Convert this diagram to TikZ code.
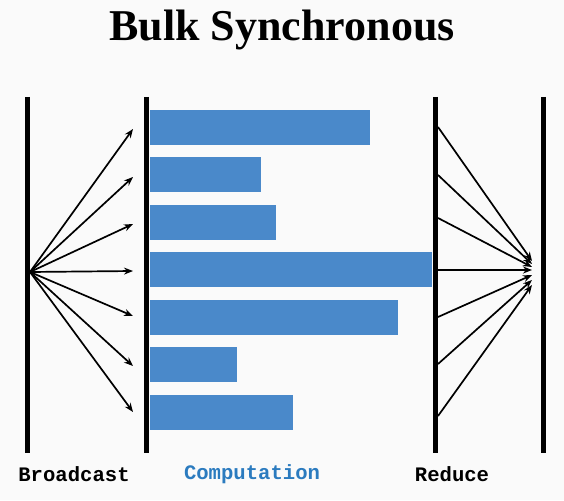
\documentclass[tikz,border=0pt]{standalone}
\usepackage{fontspec}
\setmainfont{Liberation Serif}
\setmonofont{Liberation Mono}
\usetikzlibrary{arrows.meta}
\definecolor{barblue}{HTML}{4A89CA}
\definecolor{txtblue}{HTML}{2B7BBF}

\begin{document}
\begin{tikzpicture}[x=1pt,y=-1pt]
\tikzstyle{barrier} = [draw=black, line width=5pt]
\tikzstyle{task} = [rectangle, fill=barblue, inner sep=0pt, minimum height=35pt, anchor=north west]
\tikzstyle{phase} = [font=\fontsize{20.6}{21}\selectfont\ttfamily\bfseries]
\tikzstyle{line} = [draw, line width=1.7pt, -{Stealth[length=9pt,width=7pt]}]
\useasboundingbox[fill=white!98!black] (0,0) rectangle (564,500);

\node[font=\fontsize{44}{44}\selectfont\bfseries] (title) at (282,30) {Bulk Synchronous};

% barriers
\path[barrier] (27,97) -- (27,453);
\path[barrier] (146,97) -- (146,453);
\path[barrier] (435,97) -- (435,453);
\path[barrier] (543,97) -- (543,453);

% computation
\node[task, minimum width=220pt] (c1) at (150,110) {};
\node[task, minimum width=111pt] (c2) at (150,157) {};
\node[task, minimum width=126pt] (c3) at (150,205) {};
\node[task, minimum width=282pt] (c4) at (150,252) {};
\node[task, minimum width=248pt] (c5) at (150,300) {};
\node[task, minimum width=87pt] (c6) at (150,347) {};
\node[task, minimum width=143pt] (c7) at (150,395) {};

\node[phase] (bcast) at (74,474) {Broadcast};
\node[phase, text=txtblue] (comp) at (252,474) {Computation};
\node[phase] (reduce) at (452,474) {Reduce};

% broadcast ends
\coordinate (src) at (30,272);
\coordinate (b1) at (133,129);
\coordinate (b2) at (133,177);
\coordinate (b3) at (133,224);
\coordinate (b4) at (133,271);
\coordinate (b5) at (133,316);
\coordinate (b6) at (133,366);
\coordinate (b7) at (133,412);

% reduce ends
\coordinate (r1) at (438,127);
\coordinate (r2) at (438,175);
\coordinate (r3) at (438,218);
\coordinate (r4) at (438,270);
\coordinate (r5) at (438,317);
\coordinate (r6) at (438,364);
\coordinate (r7) at (438,416);
\coordinate (d1) at (532,261);
\coordinate (d2) at (532,264);
\coordinate (d3) at (532,267);
\coordinate (d4) at (532,270);
\coordinate (d5) at (532,275);
\coordinate (d6) at (532,280);
\coordinate (d7) at (532,285);

\tikzstyle{every path}=[line]
\path (src) -- (b1);
\path (src) -- (b2);
\path (src) -- (b3);
\path (src) -- (b4);
\path (src) -- (b5);
\path (src) -- (b6);
\path (src) -- (b7);
\path (r1) -- (d1);
\path (r2) -- (d2);
\path (r3) -- (d3);
\path (r4) -- (d4);
\path (r5) -- (d5);
\path (r6) -- (d6);
\path (r7) -- (d7);
\end{tikzpicture}
\end{document}
